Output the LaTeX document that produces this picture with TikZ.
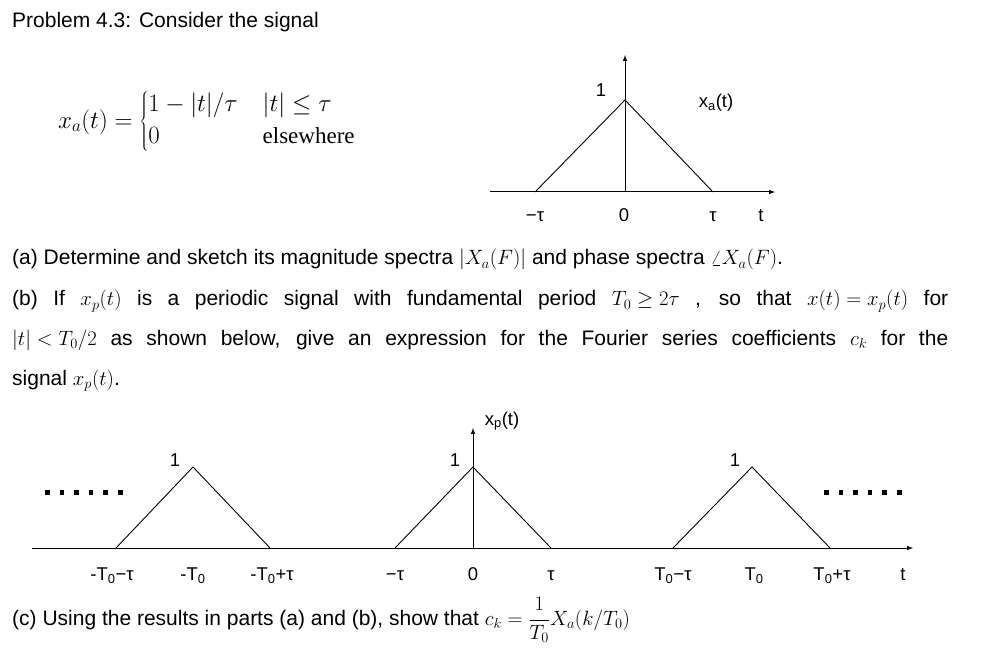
\documentclass[tikz,border=0pt]{standalone}
\usepackage{fontspec}
\setmainfont{Liberation Sans}
\newfontfamily\mfont{Liberation Serif}
\begin{document}
\begin{tikzpicture}[x=1pt,y=-1pt,
  txt/.style={anchor=base west,inner sep=0pt,font=\fontsize{21}{24}\selectfont},
  lab/.style={anchor=base,inner sep=0pt,font=\fontsize{18.5}{20}\selectfont},
  ax/.style={-latex,line width=1pt},
  tri/.style={line width=0.9pt},
  dotbox/.style={fill=black,draw=none}]
\useasboundingbox (0,0) rectangle (983,668);
\node[txt] (title) at (12,28) {Problem 4.3: Consider the signal};
\node[anchor=west,inner sep=0pt,font=\fontsize{25}{30}\selectfont] (eq) at (58,122)
 {$x_a(t)=\left\{\begin{array}{@{}l@{\quad}l@{}}1-|t|/\tau & |t|\le\tau\\[2pt] 0 & \mbox{\mfont\fontsize{23}{26}\selectfont elsewhere}\end{array}\right.$};
% top graph
\coordinate (o) at (625,192);
\coordinate (xe) at (775,192); \coordinate (xs) at (490,192);
\coordinate (ye) at (625,55);
\draw[ax] (xs) -- (xe);
\draw[ax] (o) -- (ye);
\coordinate (l) at (535,192); \coordinate (p) at (625,100); \coordinate (r) at (713,192);
\draw[tri] (l) -- (p) -- (r);
\node[lab] (one) at (601,97) {1};
\node[lab] (xa) at (716,108) {x\textsubscript{a}(t)};
\node[lab] (mt) at (535,222) {−τ};
\node[lab] (z) at (624,222) {0};
\node[lab] (tt) at (713,222) {τ};
\node[lab] (t) at (761,222) {t};
% text
\node[txt] (a) at (12,265) {(a) Determine and sketch its magnitude spectra $\bigl|X_a(F)\bigr|$ and phase spectra $\angle X_a(F)$.};
\node[txt] (b1) at (12,306) {\makebox[936pt][s]{(b) If \mbox{$x_p(t)$} is a periodic signal with fundamental period \mbox{$T_0\ge2\tau$} , so that \mbox{$x(t)=x_p(t)$} for}};
\node[txt] (b2) at (12,345) {\makebox[936pt][s]{\mbox{$|t|<T_0/2$} as shown below, give an expression for the Fourier series coefficients \mbox{$c_k$} for the}};
\node[txt] (b3) at (12,385) {signal $x_p(t)$.};
% bottom graph
\coordinate (O) at (473,548);
\coordinate (Xs) at (32,548); \coordinate (Xe) at (913,548);
\coordinate (Ye) at (473,428);
\draw[ax] (Xs) -- (Xe);
\draw[ax] (O) -- (Ye);
\draw[tri] (116,548) coordinate (a1) -- (193,467) coordinate (a2) -- (270,548) coordinate (a3);
\draw[tri] (395,548) coordinate (b1c) -- (473,467) coordinate (b2c) -- (551,548) coordinate (b3c);
\draw[tri] (673,548) coordinate (c1) -- (752,467) coordinate (c2) -- (830,548) coordinate (c3);
\node[lab] (o1) at (175,466) {1};
\node[lab] (o2) at (455,466) {1};
\node[lab] (o3) at (735,466) {1};
\node[lab] (xp) at (502,425) {x\textsubscript{p}(t)};
\foreach \i in {0,...,5} {
  \fill[dotbox] (45+\i*14.6,490) rectangle ++(4.5,4.5);
  \fill[dotbox] (824+\i*14.6,490) rectangle ++(4.5,4.5);
}
\node[lab] (l1) at (112,580) {-T\textsubscript{0}−τ};
\node[lab] (l2) at (193,580) {-T\textsubscript{0}};
\node[lab] (l3) at (272,580) {-T\textsubscript{0}+τ};
\node[lab] (l4) at (395,580) {−τ};
\node[lab] (l5) at (473,580) {0};
\node[lab] (l6) at (551,580) {τ};
\node[lab] (l7) at (673,580) {T\textsubscript{0}−τ};
\node[lab] (l8) at (754,580) {T\textsubscript{0}};
\node[lab] (l9) at (832,580) {T\textsubscript{0}+τ};
\node[lab] (l10) at (903,580) {t};
\node[txt] (c) at (12,625) {(c) Using the results in parts (a) and (b), show that $c_k=\displaystyle\frac{1}{T_0}X_a(k/T_0)$};
\end{tikzpicture}
\end{document}
